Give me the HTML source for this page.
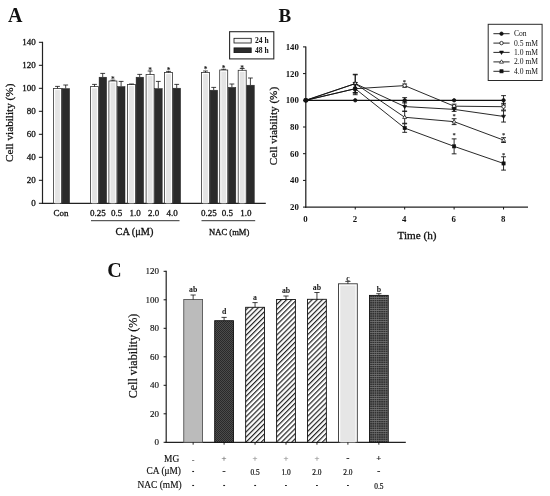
<!DOCTYPE html>
<html><head><meta charset="utf-8"><title>Figure</title>
<style>
html,body{margin:0;padding:0;background:#fff;}
body{width:550px;height:496px;overflow:hidden;}
svg{display:block;font-family:'Liberation Serif', 'DejaVu Serif', serif;}
</style></head><body>
<svg width="550" height="496" viewBox="0 0 550 496" font-family="'Liberation Serif', 'DejaVu Serif', serif">
<rect width="550" height="496" fill="#ffffff"/>
<text x="8.00" y="21.80" font-size="20" text-anchor="start" font-weight="bold" fill="#111" >A</text>
<text x="278.50" y="21.80" font-size="19" text-anchor="start" font-weight="bold" fill="#111" >B</text>
<text x="107.20" y="276.80" font-size="20" text-anchor="start" font-weight="bold" fill="#111" >C</text>
<line x1="42.50" y1="41.80" x2="42.50" y2="203.90" stroke="#222" stroke-width="1.2" />
<line x1="41.90" y1="203.30" x2="265.80" y2="203.30" stroke="#222" stroke-width="1.2" />
<line x1="38.90" y1="203.30" x2="42.50" y2="203.30" stroke="#111" stroke-width="1" />
<text x="35.70" y="206.30" font-size="9" text-anchor="end" font-weight="normal" fill="#111" stroke="#111" stroke-width="0.3">0</text>
<line x1="38.90" y1="180.30" x2="42.50" y2="180.30" stroke="#111" stroke-width="1" />
<text x="35.70" y="183.30" font-size="9" text-anchor="end" font-weight="normal" fill="#111" stroke="#111" stroke-width="0.3">20</text>
<line x1="38.90" y1="157.30" x2="42.50" y2="157.30" stroke="#111" stroke-width="1" />
<text x="35.70" y="160.30" font-size="9" text-anchor="end" font-weight="normal" fill="#111" stroke="#111" stroke-width="0.3">40</text>
<line x1="38.90" y1="134.30" x2="42.50" y2="134.30" stroke="#111" stroke-width="1" />
<text x="35.70" y="137.30" font-size="9" text-anchor="end" font-weight="normal" fill="#111" stroke="#111" stroke-width="0.3">60</text>
<line x1="38.90" y1="111.30" x2="42.50" y2="111.30" stroke="#111" stroke-width="1" />
<text x="35.70" y="114.30" font-size="9" text-anchor="end" font-weight="normal" fill="#111" stroke="#111" stroke-width="0.3">80</text>
<line x1="38.90" y1="88.30" x2="42.50" y2="88.30" stroke="#111" stroke-width="1" />
<text x="35.70" y="91.30" font-size="9" text-anchor="end" font-weight="normal" fill="#111" stroke="#111" stroke-width="0.3">100</text>
<line x1="38.90" y1="65.30" x2="42.50" y2="65.30" stroke="#111" stroke-width="1" />
<text x="35.70" y="68.30" font-size="9" text-anchor="end" font-weight="normal" fill="#111" stroke="#111" stroke-width="0.3">120</text>
<line x1="38.90" y1="42.30" x2="42.50" y2="42.30" stroke="#111" stroke-width="1" />
<text x="35.70" y="45.30" font-size="9" text-anchor="end" font-weight="normal" fill="#111" stroke="#111" stroke-width="0.3">140</text>
<text transform="translate(12.6,122.8) rotate(-90)" font-size="11.2" text-anchor="middle" fill="#111" stroke="#111" stroke-width="0.25">Cell viability (%)</text>
<rect x="53.50" y="88.40" width="8.00" height="114.90" fill="#fff" stroke="#333" stroke-width="0.8" />
<rect x="55.10" y="90.10" width="4.80" height="113.20" fill="#e4e4e4" stroke="none" stroke-width="0" />
<rect x="62.10" y="88.60" width="7.50" height="114.70" fill="#2b2b2b" stroke="#222" stroke-width="0.5" />
<line x1="57.50" y1="88.40" x2="57.50" y2="86.40" stroke="#111" stroke-width="0.8" />
<line x1="55.10" y1="86.40" x2="59.90" y2="86.40" stroke="#111" stroke-width="0.8" />
<line x1="65.70" y1="88.40" x2="65.70" y2="85.00" stroke="#111" stroke-width="0.8" />
<line x1="63.30" y1="85.00" x2="68.10" y2="85.00" stroke="#111" stroke-width="0.8" />
<text x="61.10" y="216.00" font-size="9" text-anchor="middle" font-weight="normal" fill="#111" stroke="#111" stroke-width="0.3">Con</text>
<rect x="90.50" y="86.60" width="8.00" height="116.70" fill="#fff" stroke="#333" stroke-width="0.8" />
<rect x="92.10" y="88.30" width="4.80" height="115.00" fill="#e4e4e4" stroke="none" stroke-width="0" />
<rect x="99.10" y="77.20" width="7.50" height="126.10" fill="#2b2b2b" stroke="#222" stroke-width="0.5" />
<line x1="94.50" y1="86.60" x2="94.50" y2="84.40" stroke="#111" stroke-width="0.8" />
<line x1="92.10" y1="84.40" x2="96.90" y2="84.40" stroke="#111" stroke-width="0.8" />
<line x1="102.70" y1="77.00" x2="102.70" y2="73.40" stroke="#111" stroke-width="0.8" />
<line x1="100.30" y1="73.40" x2="105.10" y2="73.40" stroke="#111" stroke-width="0.8" />
<text x="97.80" y="216.00" font-size="9" text-anchor="middle" font-weight="normal" fill="#111" stroke="#111" stroke-width="0.3">0.25</text>
<rect x="108.90" y="81.00" width="8.00" height="122.30" fill="#fff" stroke="#333" stroke-width="0.8" />
<rect x="110.50" y="82.70" width="4.80" height="120.60" fill="#e4e4e4" stroke="none" stroke-width="0" />
<rect x="117.50" y="86.60" width="7.50" height="116.70" fill="#2b2b2b" stroke="#222" stroke-width="0.5" />
<line x1="112.90" y1="81.00" x2="112.90" y2="80.20" stroke="#111" stroke-width="0.8" />
<line x1="110.50" y1="80.20" x2="115.30" y2="80.20" stroke="#111" stroke-width="0.8" />
<line x1="121.10" y1="86.40" x2="121.10" y2="81.40" stroke="#111" stroke-width="0.8" />
<line x1="118.70" y1="81.40" x2="123.50" y2="81.40" stroke="#111" stroke-width="0.8" />
<text x="116.50" y="216.00" font-size="9" text-anchor="middle" font-weight="normal" fill="#111" stroke="#111" stroke-width="0.3">0.5</text>
<text x="112.90" y="82.06" font-size="7.5" text-anchor="middle" font-weight="bold" fill="#111" >*</text>
<rect x="127.50" y="84.40" width="8.00" height="118.90" fill="#fff" stroke="#333" stroke-width="0.8" />
<rect x="129.10" y="86.10" width="4.80" height="117.20" fill="#e4e4e4" stroke="none" stroke-width="0" />
<rect x="136.10" y="77.20" width="7.50" height="126.10" fill="#2b2b2b" stroke="#222" stroke-width="0.5" />
<line x1="131.50" y1="84.40" x2="131.50" y2="84.00" stroke="#111" stroke-width="0.8" />
<line x1="129.10" y1="84.00" x2="133.90" y2="84.00" stroke="#111" stroke-width="0.8" />
<line x1="139.70" y1="77.00" x2="139.70" y2="74.40" stroke="#111" stroke-width="0.8" />
<line x1="137.30" y1="74.40" x2="142.10" y2="74.40" stroke="#111" stroke-width="0.8" />
<text x="135.10" y="216.00" font-size="9" text-anchor="middle" font-weight="normal" fill="#111" stroke="#111" stroke-width="0.3">1.0</text>
<rect x="146.10" y="74.40" width="8.00" height="128.90" fill="#fff" stroke="#333" stroke-width="0.8" />
<rect x="147.70" y="76.10" width="4.80" height="127.20" fill="#e4e4e4" stroke="none" stroke-width="0" />
<rect x="154.70" y="88.60" width="7.50" height="114.70" fill="#2b2b2b" stroke="#222" stroke-width="0.5" />
<line x1="150.10" y1="74.40" x2="150.10" y2="71.00" stroke="#111" stroke-width="0.8" />
<line x1="147.70" y1="71.00" x2="152.50" y2="71.00" stroke="#111" stroke-width="0.8" />
<line x1="158.30" y1="88.40" x2="158.30" y2="81.40" stroke="#111" stroke-width="0.8" />
<line x1="155.90" y1="81.40" x2="160.70" y2="81.40" stroke="#111" stroke-width="0.8" />
<text x="153.70" y="216.00" font-size="9" text-anchor="middle" font-weight="normal" fill="#111" stroke="#111" stroke-width="0.3">2.0</text>
<text x="150.10" y="73.06" font-size="7.5" text-anchor="middle" font-weight="bold" fill="#111" >*</text>
<rect x="164.50" y="72.40" width="8.00" height="130.90" fill="#fff" stroke="#333" stroke-width="0.8" />
<rect x="166.10" y="74.10" width="4.80" height="129.20" fill="#e4e4e4" stroke="none" stroke-width="0" />
<rect x="173.10" y="88.20" width="7.50" height="115.10" fill="#2b2b2b" stroke="#222" stroke-width="0.5" />
<line x1="168.50" y1="72.40" x2="168.50" y2="71.40" stroke="#111" stroke-width="0.8" />
<line x1="166.10" y1="71.40" x2="170.90" y2="71.40" stroke="#111" stroke-width="0.8" />
<line x1="176.70" y1="88.00" x2="176.70" y2="84.40" stroke="#111" stroke-width="0.8" />
<line x1="174.30" y1="84.40" x2="179.10" y2="84.40" stroke="#111" stroke-width="0.8" />
<text x="172.10" y="216.00" font-size="9" text-anchor="middle" font-weight="normal" fill="#111" stroke="#111" stroke-width="0.3">4.0</text>
<text x="168.50" y="73.06" font-size="7.5" text-anchor="middle" font-weight="bold" fill="#111" >*</text>
<rect x="201.50" y="72.40" width="8.00" height="130.90" fill="#fff" stroke="#333" stroke-width="0.8" />
<rect x="203.10" y="74.10" width="4.80" height="129.20" fill="#e4e4e4" stroke="none" stroke-width="0" />
<rect x="210.10" y="90.20" width="7.50" height="113.10" fill="#2b2b2b" stroke="#222" stroke-width="0.5" />
<line x1="205.50" y1="72.40" x2="205.50" y2="71.00" stroke="#111" stroke-width="0.8" />
<line x1="203.10" y1="71.00" x2="207.90" y2="71.00" stroke="#111" stroke-width="0.8" />
<line x1="213.70" y1="90.00" x2="213.70" y2="87.40" stroke="#111" stroke-width="0.8" />
<line x1="211.30" y1="87.40" x2="216.10" y2="87.40" stroke="#111" stroke-width="0.8" />
<text x="208.80" y="216.00" font-size="9" text-anchor="middle" font-weight="normal" fill="#111" stroke="#111" stroke-width="0.3">0.25</text>
<text x="205.50" y="72.26" font-size="7.5" text-anchor="middle" font-weight="bold" fill="#111" >*</text>
<rect x="219.70" y="70.00" width="8.00" height="133.30" fill="#fff" stroke="#333" stroke-width="0.8" />
<rect x="221.30" y="71.70" width="4.80" height="131.60" fill="#e4e4e4" stroke="none" stroke-width="0" />
<rect x="228.30" y="87.40" width="7.50" height="115.90" fill="#2b2b2b" stroke="#222" stroke-width="0.5" />
<line x1="223.70" y1="70.00" x2="223.70" y2="69.30" stroke="#111" stroke-width="0.8" />
<line x1="221.30" y1="69.30" x2="226.10" y2="69.30" stroke="#111" stroke-width="0.8" />
<line x1="231.90" y1="87.20" x2="231.90" y2="84.00" stroke="#111" stroke-width="0.8" />
<line x1="229.50" y1="84.00" x2="234.30" y2="84.00" stroke="#111" stroke-width="0.8" />
<text x="227.30" y="216.00" font-size="9" text-anchor="middle" font-weight="normal" fill="#111" stroke="#111" stroke-width="0.3">0.5</text>
<text x="223.70" y="71.26" font-size="7.5" text-anchor="middle" font-weight="bold" fill="#111" >*</text>
<rect x="238.20" y="70.30" width="8.00" height="133.00" fill="#fff" stroke="#333" stroke-width="0.8" />
<rect x="239.80" y="72.00" width="4.80" height="131.30" fill="#e4e4e4" stroke="none" stroke-width="0" />
<rect x="246.80" y="85.20" width="7.50" height="118.10" fill="#2b2b2b" stroke="#222" stroke-width="0.5" />
<line x1="242.20" y1="70.30" x2="242.20" y2="68.50" stroke="#111" stroke-width="0.8" />
<line x1="239.80" y1="68.50" x2="244.60" y2="68.50" stroke="#111" stroke-width="0.8" />
<line x1="250.40" y1="85.00" x2="250.40" y2="78.00" stroke="#111" stroke-width="0.8" />
<line x1="248.00" y1="78.00" x2="252.80" y2="78.00" stroke="#111" stroke-width="0.8" />
<text x="245.80" y="216.00" font-size="9" text-anchor="middle" font-weight="normal" fill="#111" stroke="#111" stroke-width="0.3">1.0</text>
<text x="242.20" y="70.66" font-size="7.5" text-anchor="middle" font-weight="bold" fill="#111" >*</text>
<line x1="91.00" y1="220.70" x2="179.50" y2="220.70" stroke="#333" stroke-width="1" />
<line x1="201.50" y1="220.70" x2="255.20" y2="220.70" stroke="#333" stroke-width="1" />
<text x="134.50" y="235.00" font-size="10.3" text-anchor="middle" font-weight="normal" fill="#111" stroke="#111" stroke-width="0.3">CA (μM)</text>
<text x="229.20" y="234.60" font-size="8.6" text-anchor="middle" font-weight="normal" fill="#111" stroke="#111" stroke-width="0.3">NAC (mM)</text>
<rect x="229.60" y="31.70" width="44.20" height="27.20" fill="#fff" stroke="#2a2a2a" stroke-width="1.1" />
<rect x="234.00" y="38.30" width="17.20" height="4.70" fill="#f6f6f6" stroke="#111" stroke-width="0.8" />
<rect x="234.00" y="47.90" width="17.20" height="4.70" fill="#2b2b2b" stroke="#111" stroke-width="0.8" />
<text x="255.00" y="43.20" font-size="7.6" text-anchor="start" font-weight="bold" fill="#111" >24 h</text>
<text x="255.00" y="52.80" font-size="7.6" text-anchor="start" font-weight="bold" fill="#111" >48 h</text>
<line x1="305.80" y1="46.40" x2="305.80" y2="207.70" stroke="#222" stroke-width="1.25" />
<line x1="305.20" y1="207.10" x2="528.00" y2="207.10" stroke="#222" stroke-width="1.25" />
<line x1="303.00" y1="207.10" x2="305.80" y2="207.10" stroke="#111" stroke-width="1" />
<text x="298.90" y="210.10" font-size="8.8" text-anchor="end" font-weight="bold" fill="#111" >20</text>
<line x1="303.00" y1="180.40" x2="305.80" y2="180.40" stroke="#111" stroke-width="1" />
<text x="298.90" y="183.40" font-size="8.8" text-anchor="end" font-weight="bold" fill="#111" >40</text>
<line x1="303.00" y1="153.70" x2="305.80" y2="153.70" stroke="#111" stroke-width="1" />
<text x="298.90" y="156.70" font-size="8.8" text-anchor="end" font-weight="bold" fill="#111" >60</text>
<line x1="303.00" y1="127.00" x2="305.80" y2="127.00" stroke="#111" stroke-width="1" />
<text x="298.90" y="130.00" font-size="8.8" text-anchor="end" font-weight="bold" fill="#111" >80</text>
<line x1="303.00" y1="100.30" x2="305.80" y2="100.30" stroke="#111" stroke-width="1" />
<text x="298.90" y="103.30" font-size="8.8" text-anchor="end" font-weight="bold" fill="#111" >100</text>
<line x1="303.00" y1="73.60" x2="305.80" y2="73.60" stroke="#111" stroke-width="1" />
<text x="298.90" y="76.60" font-size="8.8" text-anchor="end" font-weight="bold" fill="#111" >120</text>
<line x1="303.00" y1="46.90" x2="305.80" y2="46.90" stroke="#111" stroke-width="1" />
<text x="298.90" y="49.90" font-size="8.8" text-anchor="end" font-weight="bold" fill="#111" >140</text>
<text x="305.40" y="221.60" font-size="8.8" text-anchor="middle" font-weight="bold" fill="#111" >0</text>
<line x1="355.24" y1="207.10" x2="355.24" y2="209.50" stroke="#111" stroke-width="1" />
<text x="354.84" y="221.60" font-size="8.8" text-anchor="middle" font-weight="bold" fill="#111" >2</text>
<line x1="404.68" y1="207.10" x2="404.68" y2="209.50" stroke="#111" stroke-width="1" />
<text x="404.28" y="221.60" font-size="8.8" text-anchor="middle" font-weight="bold" fill="#111" >4</text>
<line x1="454.12" y1="207.10" x2="454.12" y2="209.50" stroke="#111" stroke-width="1" />
<text x="453.72" y="221.60" font-size="8.8" text-anchor="middle" font-weight="bold" fill="#111" >6</text>
<line x1="503.56" y1="207.10" x2="503.56" y2="209.50" stroke="#111" stroke-width="1" />
<text x="503.16" y="221.60" font-size="8.8" text-anchor="middle" font-weight="bold" fill="#111" >8</text>
<text x="417.00" y="238.60" font-size="11.2" text-anchor="middle" font-weight="normal" fill="#111" stroke="#111" stroke-width="0.3">Time (h)</text>
<text transform="translate(276.8,126) rotate(-90)" font-size="11.2" text-anchor="middle" fill="#111" stroke="#111" stroke-width="0.25">Cell viability (%)</text>
<polyline points="305.80,100.30 355.24,100.30 404.68,100.30 454.12,100.30 503.56,100.30" fill="none" stroke="#111" stroke-width="1.2"/>
<line x1="404.68" y1="102.97" x2="404.68" y2="97.63" stroke="#111" stroke-width="0.9" />
<line x1="402.28" y1="97.63" x2="407.08" y2="97.63" stroke="#111" stroke-width="0.9" />
<line x1="402.28" y1="102.97" x2="407.08" y2="102.97" stroke="#111" stroke-width="0.9" />
<line x1="503.56" y1="104.97" x2="503.56" y2="95.63" stroke="#111" stroke-width="0.9" />
<line x1="501.16" y1="95.63" x2="505.96" y2="95.63" stroke="#111" stroke-width="0.9" />
<line x1="501.16" y1="104.97" x2="505.96" y2="104.97" stroke="#111" stroke-width="0.9" />
<circle cx="305.80" cy="100.30" r="1.7" fill="#111" stroke="#111" stroke-width="0.8"/>
<circle cx="355.24" cy="100.30" r="1.7" fill="#111" stroke="#111" stroke-width="0.8"/>
<circle cx="404.68" cy="100.30" r="1.7" fill="#111" stroke="#111" stroke-width="0.8"/>
<circle cx="454.12" cy="100.30" r="1.7" fill="#111" stroke="#111" stroke-width="0.8"/>
<circle cx="503.56" cy="100.30" r="1.7" fill="#111" stroke="#111" stroke-width="0.8"/>
<polyline points="305.80,100.30 355.24,88.69 404.68,85.61 454.12,106.17 503.56,106.71" fill="none" stroke="#111" stroke-width="0.9"/>
<line x1="355.24" y1="94.69" x2="355.24" y2="82.68" stroke="#111" stroke-width="0.9" />
<line x1="352.84" y1="82.68" x2="357.64" y2="82.68" stroke="#111" stroke-width="0.9" />
<line x1="352.84" y1="94.69" x2="357.64" y2="94.69" stroke="#111" stroke-width="0.9" />
<line x1="404.68" y1="87.22" x2="404.68" y2="84.01" stroke="#111" stroke-width="0.9" />
<line x1="402.28" y1="84.01" x2="407.08" y2="84.01" stroke="#111" stroke-width="0.9" />
<line x1="402.28" y1="87.22" x2="407.08" y2="87.22" stroke="#111" stroke-width="0.9" />
<line x1="454.12" y1="108.18" x2="454.12" y2="104.17" stroke="#111" stroke-width="0.9" />
<line x1="451.72" y1="104.17" x2="456.52" y2="104.17" stroke="#111" stroke-width="0.9" />
<line x1="451.72" y1="108.18" x2="456.52" y2="108.18" stroke="#111" stroke-width="0.9" />
<line x1="503.56" y1="110.05" x2="503.56" y2="103.37" stroke="#111" stroke-width="0.9" />
<line x1="501.16" y1="103.37" x2="505.96" y2="103.37" stroke="#111" stroke-width="0.9" />
<line x1="501.16" y1="110.05" x2="505.96" y2="110.05" stroke="#111" stroke-width="0.9" />
<circle cx="305.80" cy="100.30" r="1.7" fill="#fff" stroke="#111" stroke-width="0.8"/>
<circle cx="355.24" cy="88.69" r="1.7" fill="#fff" stroke="#111" stroke-width="0.8"/>
<circle cx="404.68" cy="85.61" r="1.7" fill="#fff" stroke="#111" stroke-width="0.8"/>
<circle cx="454.12" cy="106.17" r="1.7" fill="#fff" stroke="#111" stroke-width="0.8"/>
<circle cx="503.56" cy="106.71" r="1.7" fill="#fff" stroke="#111" stroke-width="0.8"/>
<polyline points="305.80,100.30 355.24,83.61 404.68,106.57 454.12,109.38 503.56,116.45" fill="none" stroke="#111" stroke-width="0.9"/>
<line x1="355.24" y1="92.42" x2="355.24" y2="74.80" stroke="#111" stroke-width="0.9" />
<line x1="352.84" y1="74.80" x2="357.64" y2="74.80" stroke="#111" stroke-width="0.9" />
<line x1="352.84" y1="92.42" x2="357.64" y2="92.42" stroke="#111" stroke-width="0.9" />
<line x1="404.68" y1="111.25" x2="404.68" y2="101.90" stroke="#111" stroke-width="0.9" />
<line x1="402.28" y1="101.90" x2="407.08" y2="101.90" stroke="#111" stroke-width="0.9" />
<line x1="402.28" y1="111.25" x2="407.08" y2="111.25" stroke="#111" stroke-width="0.9" />
<line x1="454.12" y1="111.38" x2="454.12" y2="107.38" stroke="#111" stroke-width="0.9" />
<line x1="451.72" y1="107.38" x2="456.52" y2="107.38" stroke="#111" stroke-width="0.9" />
<line x1="451.72" y1="111.38" x2="456.52" y2="111.38" stroke="#111" stroke-width="0.9" />
<line x1="503.56" y1="122.06" x2="503.56" y2="110.85" stroke="#111" stroke-width="0.9" />
<line x1="501.16" y1="110.85" x2="505.96" y2="110.85" stroke="#111" stroke-width="0.9" />
<line x1="501.16" y1="122.06" x2="505.96" y2="122.06" stroke="#111" stroke-width="0.9" />
<polygon points="303.80,99.00 307.80,99.00 305.80,102.40" fill="#111" stroke="#111" stroke-width="0.6"/>
<polygon points="353.24,82.31 357.24,82.31 355.24,85.71" fill="#111" stroke="#111" stroke-width="0.6"/>
<polygon points="402.68,105.27 406.68,105.27 404.68,108.67" fill="#111" stroke="#111" stroke-width="0.6"/>
<polygon points="452.12,108.08 456.12,108.08 454.12,111.48" fill="#111" stroke="#111" stroke-width="0.6"/>
<polygon points="501.56,115.15 505.56,115.15 503.56,118.55" fill="#111" stroke="#111" stroke-width="0.6"/>
<polyline points="305.80,100.30 355.24,83.61 404.68,117.25 454.12,121.66 503.56,140.08" fill="none" stroke="#111" stroke-width="0.9"/>
<line x1="355.24" y1="92.96" x2="355.24" y2="74.27" stroke="#111" stroke-width="0.9" />
<line x1="352.84" y1="74.27" x2="357.64" y2="74.27" stroke="#111" stroke-width="0.9" />
<line x1="352.84" y1="92.96" x2="357.64" y2="92.96" stroke="#111" stroke-width="0.9" />
<line x1="404.68" y1="123.26" x2="404.68" y2="111.25" stroke="#111" stroke-width="0.9" />
<line x1="402.28" y1="111.25" x2="407.08" y2="111.25" stroke="#111" stroke-width="0.9" />
<line x1="402.28" y1="123.26" x2="407.08" y2="123.26" stroke="#111" stroke-width="0.9" />
<line x1="454.12" y1="124.60" x2="454.12" y2="118.72" stroke="#111" stroke-width="0.9" />
<line x1="451.72" y1="118.72" x2="456.52" y2="118.72" stroke="#111" stroke-width="0.9" />
<line x1="451.72" y1="124.60" x2="456.52" y2="124.60" stroke="#111" stroke-width="0.9" />
<line x1="503.56" y1="142.49" x2="503.56" y2="137.68" stroke="#111" stroke-width="0.9" />
<line x1="501.16" y1="137.68" x2="505.96" y2="137.68" stroke="#111" stroke-width="0.9" />
<line x1="501.16" y1="142.49" x2="505.96" y2="142.49" stroke="#111" stroke-width="0.9" />
<polygon points="303.80,101.60 307.80,101.60 305.80,98.20" fill="#fff" stroke="#111" stroke-width="0.7"/>
<polygon points="353.24,84.91 357.24,84.91 355.24,81.51" fill="#fff" stroke="#111" stroke-width="0.7"/>
<polygon points="402.68,118.55 406.68,118.55 404.68,115.15" fill="#fff" stroke="#111" stroke-width="0.7"/>
<polygon points="452.12,122.96 456.12,122.96 454.12,119.56" fill="#fff" stroke="#111" stroke-width="0.7"/>
<polygon points="501.56,141.38 505.56,141.38 503.56,137.98" fill="#fff" stroke="#111" stroke-width="0.7"/>
<polyline points="305.80,100.30 355.24,88.69 404.68,128.07 454.12,146.36 503.56,163.45" fill="none" stroke="#111" stroke-width="0.9"/>
<line x1="355.24" y1="92.96" x2="355.24" y2="84.41" stroke="#111" stroke-width="0.9" />
<line x1="352.84" y1="84.41" x2="357.64" y2="84.41" stroke="#111" stroke-width="0.9" />
<line x1="352.84" y1="92.96" x2="357.64" y2="92.96" stroke="#111" stroke-width="0.9" />
<line x1="404.68" y1="132.34" x2="404.68" y2="123.80" stroke="#111" stroke-width="0.9" />
<line x1="402.28" y1="123.80" x2="407.08" y2="123.80" stroke="#111" stroke-width="0.9" />
<line x1="402.28" y1="132.34" x2="407.08" y2="132.34" stroke="#111" stroke-width="0.9" />
<line x1="454.12" y1="153.83" x2="454.12" y2="138.88" stroke="#111" stroke-width="0.9" />
<line x1="451.72" y1="138.88" x2="456.52" y2="138.88" stroke="#111" stroke-width="0.9" />
<line x1="451.72" y1="153.83" x2="456.52" y2="153.83" stroke="#111" stroke-width="0.9" />
<line x1="503.56" y1="170.12" x2="503.56" y2="156.77" stroke="#111" stroke-width="0.9" />
<line x1="501.16" y1="156.77" x2="505.96" y2="156.77" stroke="#111" stroke-width="0.9" />
<line x1="501.16" y1="170.12" x2="505.96" y2="170.12" stroke="#111" stroke-width="0.9" />
<rect x="304.20" y="98.70" width="3.1999999999999997" height="3.1999999999999997" fill="#111" stroke="#111" stroke-width="0.6"/>
<rect x="353.64" y="87.09" width="3.1999999999999997" height="3.1999999999999997" fill="#111" stroke="#111" stroke-width="0.6"/>
<rect x="403.08" y="126.47" width="3.1999999999999997" height="3.1999999999999997" fill="#111" stroke="#111" stroke-width="0.6"/>
<rect x="452.52" y="144.76" width="3.1999999999999997" height="3.1999999999999997" fill="#111" stroke="#111" stroke-width="0.6"/>
<rect x="501.96" y="161.85" width="3.1999999999999997" height="3.1999999999999997" fill="#111" stroke="#111" stroke-width="0.6"/>
<text x="404.40" y="83.59" font-size="6.5" text-anchor="middle" font-weight="bold" fill="#111" >*</text>
<text x="454.20" y="118.39" font-size="6.5" text-anchor="middle" font-weight="bold" fill="#111" >*</text>
<text x="454.20" y="137.49" font-size="6.5" text-anchor="middle" font-weight="bold" fill="#111" >*</text>
<text x="503.60" y="137.49" font-size="6.5" text-anchor="middle" font-weight="bold" fill="#111" >*</text>
<text x="503.60" y="156.69" font-size="6.5" text-anchor="middle" font-weight="bold" fill="#111" >*</text>
<rect x="488.20" y="24.30" width="53.90" height="56.20" fill="#fff" stroke="#2a2a2a" stroke-width="1.0" />
<line x1="493.40" y1="33.70" x2="509.60" y2="33.70" stroke="#111" stroke-width="0.9" />
<circle cx="501.50" cy="33.70" r="1.7" fill="#111" stroke="#111" stroke-width="0.8"/>
<text x="514.00" y="36.20" font-size="7.6" text-anchor="start" font-weight="normal" fill="#111" >Con</text>
<line x1="493.40" y1="43.10" x2="509.60" y2="43.10" stroke="#111" stroke-width="0.9" />
<circle cx="501.50" cy="43.10" r="1.7" fill="#fff" stroke="#111" stroke-width="0.8"/>
<text x="514.00" y="45.60" font-size="7.6" text-anchor="start" font-weight="normal" fill="#111" >0.5 mM</text>
<line x1="493.40" y1="52.40" x2="509.60" y2="52.40" stroke="#111" stroke-width="0.9" />
<polygon points="499.50,51.10 503.50,51.10 501.50,54.50" fill="#111" stroke="#111" stroke-width="0.6"/>
<text x="514.00" y="54.90" font-size="7.6" text-anchor="start" font-weight="normal" fill="#111" >1.0 mM</text>
<line x1="493.40" y1="61.90" x2="509.60" y2="61.90" stroke="#111" stroke-width="0.9" />
<polygon points="499.50,63.20 503.50,63.20 501.50,59.80" fill="#fff" stroke="#111" stroke-width="0.7"/>
<text x="514.00" y="64.40" font-size="7.6" text-anchor="start" font-weight="normal" fill="#111" >2.0 mM</text>
<line x1="493.40" y1="71.30" x2="509.60" y2="71.30" stroke="#111" stroke-width="0.9" />
<rect x="499.90" y="69.70" width="3.1999999999999997" height="3.1999999999999997" fill="#111" stroke="#111" stroke-width="0.6"/>
<text x="514.00" y="73.80" font-size="7.6" text-anchor="start" font-weight="normal" fill="#111" >4.0 mM</text>
<line x1="166.20" y1="270.80" x2="166.20" y2="442.90" stroke="#222" stroke-width="1.2" />
<line x1="165.60" y1="442.30" x2="405.80" y2="442.30" stroke="#222" stroke-width="1.2" />
<line x1="163.60" y1="442.30" x2="166.20" y2="442.30" stroke="#111" stroke-width="1" />
<text x="158.90" y="445.40" font-size="9" text-anchor="end" font-weight="normal" fill="#111" stroke="#111" stroke-width="0.15">0</text>
<line x1="163.60" y1="413.80" x2="166.20" y2="413.80" stroke="#111" stroke-width="1" />
<text x="158.90" y="416.90" font-size="9" text-anchor="end" font-weight="normal" fill="#111" stroke="#111" stroke-width="0.15">20</text>
<line x1="163.60" y1="385.30" x2="166.20" y2="385.30" stroke="#111" stroke-width="1" />
<text x="158.90" y="388.40" font-size="9" text-anchor="end" font-weight="normal" fill="#111" stroke="#111" stroke-width="0.15">40</text>
<line x1="163.60" y1="356.80" x2="166.20" y2="356.80" stroke="#111" stroke-width="1" />
<text x="158.90" y="359.90" font-size="9" text-anchor="end" font-weight="normal" fill="#111" stroke="#111" stroke-width="0.15">60</text>
<line x1="163.60" y1="328.30" x2="166.20" y2="328.30" stroke="#111" stroke-width="1" />
<text x="158.90" y="331.40" font-size="9" text-anchor="end" font-weight="normal" fill="#111" stroke="#111" stroke-width="0.15">80</text>
<line x1="163.60" y1="299.80" x2="166.20" y2="299.80" stroke="#111" stroke-width="1" />
<text x="158.90" y="302.90" font-size="9" text-anchor="end" font-weight="normal" fill="#111" stroke="#111" stroke-width="0.15">100</text>
<line x1="163.60" y1="271.30" x2="166.20" y2="271.30" stroke="#111" stroke-width="1" />
<text x="158.90" y="274.40" font-size="9" text-anchor="end" font-weight="normal" fill="#111" stroke="#111" stroke-width="0.15">120</text>
<text transform="translate(136.8,356) rotate(-90)" font-size="12.1" text-anchor="middle" fill="#111" stroke="#111" stroke-width="0.2">Cell viability (%)</text>
<defs>
<pattern id="h1" width="3.6" height="3.6" patternUnits="userSpaceOnUse" patternTransform="rotate(-45)"><rect width="3.6" height="3.6" fill="#fff"/><rect y="0" width="3.6" height="1.2" fill="#222"/></pattern>
<pattern id="h2" width="2" height="2" patternUnits="userSpaceOnUse"><rect width="2" height="2" fill="#2a2a2a"/><path d="M-1,1 L1,-1 M-1,3 L3,-1 M1,3 L3,1" stroke="#808080" stroke-width="0.4" fill="none"/></pattern>
<pattern id="h3" width="2.2" height="2.2" patternUnits="userSpaceOnUse"><rect width="2.2" height="2.2" fill="#303030"/><rect x="0" y="0" width="2.2" height="0.5" fill="#8c8c8c"/><rect x="0" y="0" width="0.45" height="2.2" fill="#777"/></pattern>
</defs>
<rect x="183.75" y="299.50" width="18.80" height="142.80" fill="#bbbbbb" stroke="#555" stroke-width="0.9" />
<line x1="193.15" y1="299.50" x2="193.15" y2="295.00" stroke="#111" stroke-width="0.8" />
<line x1="190.55" y1="295.00" x2="195.75" y2="295.00" stroke="#111" stroke-width="0.8" />
<text x="193.15" y="292.40" font-size="7.8" text-anchor="middle" font-weight="bold" fill="#111" >ab</text>
<line x1="193.15" y1="442.30" x2="193.15" y2="444.70" stroke="#111" stroke-width="0.9" />
<rect x="214.70" y="320.70" width="18.80" height="121.60" fill="url(#h2)" stroke="#111" stroke-width="0.9" />
<line x1="224.10" y1="320.70" x2="224.10" y2="317.40" stroke="#111" stroke-width="0.8" />
<line x1="221.50" y1="317.40" x2="226.70" y2="317.40" stroke="#111" stroke-width="0.8" />
<text x="224.10" y="314.40" font-size="7.8" text-anchor="middle" font-weight="bold" fill="#111" >d</text>
<line x1="224.10" y1="442.30" x2="224.10" y2="444.70" stroke="#111" stroke-width="0.9" />
<rect x="245.65" y="307.30" width="18.80" height="135.00" fill="url(#h1)" stroke="#111" stroke-width="0.9" />
<line x1="255.05" y1="307.30" x2="255.05" y2="302.60" stroke="#111" stroke-width="0.8" />
<line x1="252.45" y1="302.60" x2="257.65" y2="302.60" stroke="#111" stroke-width="0.8" />
<text x="255.05" y="299.50" font-size="7.8" text-anchor="middle" font-weight="bold" fill="#111" >a</text>
<line x1="255.05" y1="442.30" x2="255.05" y2="444.70" stroke="#111" stroke-width="0.9" />
<rect x="276.60" y="299.50" width="18.80" height="142.80" fill="url(#h1)" stroke="#111" stroke-width="0.9" />
<line x1="286.00" y1="299.50" x2="286.00" y2="296.00" stroke="#111" stroke-width="0.8" />
<line x1="283.40" y1="296.00" x2="288.60" y2="296.00" stroke="#111" stroke-width="0.8" />
<text x="286.00" y="293.40" font-size="7.8" text-anchor="middle" font-weight="bold" fill="#111" >ab</text>
<line x1="286.00" y1="442.30" x2="286.00" y2="444.70" stroke="#111" stroke-width="0.9" />
<rect x="307.55" y="299.30" width="18.80" height="143.00" fill="url(#h1)" stroke="#111" stroke-width="0.9" />
<line x1="316.95" y1="299.30" x2="316.95" y2="292.50" stroke="#111" stroke-width="0.8" />
<line x1="314.35" y1="292.50" x2="319.55" y2="292.50" stroke="#111" stroke-width="0.8" />
<text x="316.95" y="289.90" font-size="7.8" text-anchor="middle" font-weight="bold" fill="#111" >ab</text>
<line x1="316.95" y1="442.30" x2="316.95" y2="444.70" stroke="#111" stroke-width="0.9" />
<rect x="338.50" y="283.80" width="18.80" height="158.50" fill="#ffffff" stroke="#333" stroke-width="0.9" />
<rect x="340.30" y="285.60" width="15.20" height="156.70" fill="#e6e6e6" stroke="none" stroke-width="0" />
<line x1="347.90" y1="283.80" x2="347.90" y2="281.40" stroke="#111" stroke-width="0.8" />
<line x1="345.30" y1="281.40" x2="350.50" y2="281.40" stroke="#111" stroke-width="0.8" />
<text x="347.90" y="281.00" font-size="7.8" text-anchor="middle" font-weight="bold" fill="#111" >c</text>
<line x1="347.90" y1="442.30" x2="347.90" y2="444.70" stroke="#111" stroke-width="0.9" />
<rect x="369.45" y="295.40" width="18.80" height="146.90" fill="url(#h3)" stroke="#111" stroke-width="0.9" />
<line x1="378.85" y1="295.40" x2="378.85" y2="293.70" stroke="#111" stroke-width="0.8" />
<line x1="376.25" y1="293.70" x2="381.45" y2="293.70" stroke="#111" stroke-width="0.8" />
<text x="378.85" y="291.50" font-size="7.8" text-anchor="middle" font-weight="bold" fill="#111" >b</text>
<line x1="378.85" y1="442.30" x2="378.85" y2="444.70" stroke="#111" stroke-width="0.9" />
<text x="179.20" y="461.60" font-size="9.4" text-anchor="end" font-weight="normal" fill="#111" stroke="#111" stroke-width="0.15">MG</text>
<text x="193.15" y="462.50" font-size="8.5" text-anchor="middle" font-weight="bold" fill="#555" >-</text>
<text x="224.10" y="460.89" font-size="8.8" text-anchor="middle" font-weight="normal" fill="#666" stroke="#666" stroke-width="0.15">+</text>
<text x="255.05" y="460.89" font-size="8.8" text-anchor="middle" font-weight="normal" fill="#888" stroke="#888" stroke-width="0.15">+</text>
<text x="286.00" y="460.89" font-size="8.8" text-anchor="middle" font-weight="normal" fill="#888" stroke="#888" stroke-width="0.15">+</text>
<text x="316.95" y="460.89" font-size="8.8" text-anchor="middle" font-weight="normal" fill="#888" stroke="#888" stroke-width="0.15">+</text>
<text x="347.90" y="461.40" font-size="8.5" text-anchor="middle" font-weight="bold" fill="#222" stroke="#222" stroke-width="0.35">-</text>
<text x="378.85" y="460.89" font-size="8.8" text-anchor="middle" font-weight="bold" fill="#222" stroke="#222" stroke-width="0.15">+</text>
<text x="181.00" y="474.40" font-size="9.4" text-anchor="end" font-weight="normal" fill="#111" stroke="#111" stroke-width="0.15">CA (μM)</text>
<text x="193.15" y="472.24" font-size="4" text-anchor="middle" font-weight="bold" fill="#222" stroke="#222" stroke-width="0.75">-</text>
<text x="224.10" y="473.91" font-size="9" text-anchor="middle" font-weight="bold" fill="#222" stroke="#222" stroke-width="0.25">-</text>
<text x="255.05" y="475.00" font-size="7.4" text-anchor="middle" font-weight="normal" fill="#111" stroke="#111" stroke-width="0.2">0.5</text>
<text x="286.00" y="475.00" font-size="7.4" text-anchor="middle" font-weight="normal" fill="#111" stroke="#111" stroke-width="0.2">1.0</text>
<text x="316.95" y="475.00" font-size="7.4" text-anchor="middle" font-weight="normal" fill="#111" stroke="#111" stroke-width="0.2">2.0</text>
<text x="347.90" y="475.00" font-size="7.4" text-anchor="middle" font-weight="normal" fill="#111" stroke="#111" stroke-width="0.2">2.0</text>
<text x="378.85" y="473.91" font-size="9" text-anchor="middle" font-weight="bold" fill="#222" stroke="#222" stroke-width="0.25">-</text>
<text x="181.60" y="487.60" font-size="9.4" text-anchor="end" font-weight="normal" fill="#111" stroke="#111" stroke-width="0.15">NAC (mM)</text>
<text x="193.15" y="486.14" font-size="4" text-anchor="middle" font-weight="bold" fill="#222" stroke="#222" stroke-width="0.75">-</text>
<text x="224.10" y="486.14" font-size="4" text-anchor="middle" font-weight="bold" fill="#222" stroke="#222" stroke-width="0.75">-</text>
<text x="255.05" y="486.14" font-size="4" text-anchor="middle" font-weight="bold" fill="#222" stroke="#222" stroke-width="0.75">-</text>
<text x="286.00" y="486.14" font-size="4" text-anchor="middle" font-weight="bold" fill="#222" stroke="#222" stroke-width="0.75">-</text>
<text x="316.95" y="486.14" font-size="4" text-anchor="middle" font-weight="bold" fill="#222" stroke="#222" stroke-width="0.75">-</text>
<text x="347.90" y="486.14" font-size="4" text-anchor="middle" font-weight="bold" fill="#222" stroke="#222" stroke-width="0.75">-</text>
<text x="378.85" y="488.80" font-size="7.4" text-anchor="middle" font-weight="normal" fill="#111" stroke="#111" stroke-width="0.2">0.5</text>
</svg>
</body></html>
